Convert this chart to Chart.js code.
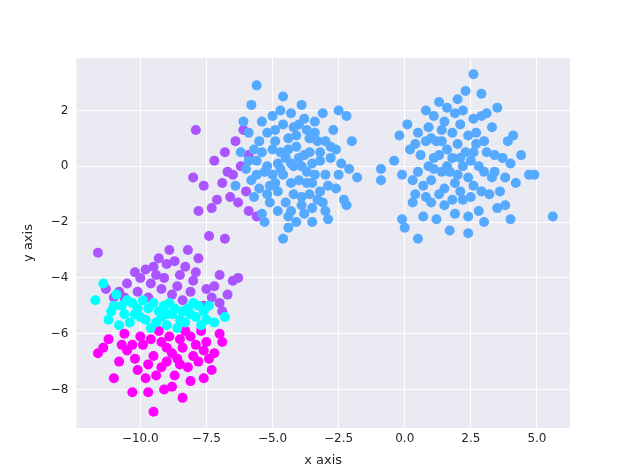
<!DOCTYPE html>
<html>
<head>
<meta charset="utf-8">
<script src="https://cdn.jsdelivr.net/npm/chart.js@4/dist/chart.umd.min.js"></script>
<style>
  html, body { margin: 0; padding: 0; background: #fff; }
  #wrap { width: 631px; height: 476px; }
</style>
</head>
<body>
<div id="wrap"><canvas id="c"></canvas></div>
<script>
//Four blob clusters, in the 'cool' colormap.
const X_TICKS = [-10, -7.5, -5, -2.5, 0, 2.5, 5];
const Y_TICKS = [-8, -6, -4, -2, 0, 2];

const blueA = [[-4.2,0],[-3.8,0.4],[-4.6,-0.3],[-5.0,0.6],[-3.5,-0.6],[-4.4,1.0],[-3.9,-1.1],[-5.3,-0.2],[-3.2,0.2],[-4.8,-0.9],[-4.0,1.5],[-3.0,-0.3],[-5.5,0.9],[-4.5,0.3],[-3.6,1.0],[-4.9,1.3],[-5.8,-0.5],[-3.3,-1.2],[-4.3,-1.6],[-2.8,0.7],[-5.1,-1.3],[-4.7,2.0],[-3.7,-0.2],[-4.1,0.7],[-5.6,0.2],[-2.6,-0.8],[-3.4,1.6],[-4.4,-2.2],[-5.9,1.2],[-6.0,-0.1],[-2.4,0.1],[-3.1,1.9],[-4.6,2.5],[-5.6,2.9],[-5.8,2.2],[-2.2,1.8],[-2.1,-0.1],[-2.3,-1.2],[-3.5,-2.0],[-4.6,-2.6],[-5.4,-1.7],[-6.2,0.5],[-6.4,-0.7],[-3.0,-1.6],[-2.0,0.9],[-3.9,2.2],[-4.2,-1.0],[-5.2,0.0],[-3.6,0.5],[-4.8,0.1],[-4.0,-0.5],[-4.5,-1.3],[-3.3,0.9],[-5.0,1.8],[-3.8,-1.7],[-2.7,1.3],[-6.1,1.6],[-5.7,-1.1],[-2.9,-1.9],[-4.3,1.9],[-1.8,-0.4],[-2.5,2.0],[-5.3,-2.0],[-3.2,-0.9],[-4.9,-0.6],[-3.7,1.3],[-5.4,0.5],[-4.1,-2.0],[-2.2,-1.4],[-4.4,0.6],[-3.9,0.0],[-4.7,-0.1],[-3.4,-0.3],[-5.1,-0.7],[-4.1,1.1],[-3.6,-1.0],
    [-5.5,-0.8],[-5.7,0.6],[-5.2,1.2],[-4.9,0.9],[-4.6,1.5],[-4.2,1.4],[-3.8,1.7],[-3.4,1.2],[-3.0,0.9],[-2.8,0.3],[-2.9,-0.7],[-3.1,-1.3],[-3.5,-1.5],[-3.9,-1.4],[-4.4,-1.8],[-4.8,-1.6],[-5.2,-1.0],[-5.6,-0.3],[-5.9,0.2],[-5.4,1.6],[-4.3,-0.6],[-3.5,0.1],[-3.2,0.5],[-4.0,0.3],[-4.7,0.5],[-5.0,-0.3],[-3.7,-0.6],[-4.3,0.1],[-2.5,-0.3],[-2.6,0.6]];

const blueB = [[1.8,0.3],[1.2,0.9],[2.4,-0.4],[1.5,-0.8],[2.7,0.8],[0.9,0.0],[2.1,1.5],[1.0,-1.3],[3.0,-0.2],[0.5,1.2],[2.9,1.8],[1.6,2.1],[0.3,-0.5],[3.4,0.4],[2.2,-1.2],[1.3,0.4],[2.5,0.2],[0.7,-1.8],[3.6,-0.9],[1.9,-1.7],[0.2,0.6],[3.3,1.4],[2.0,2.4],[1.1,1.8],[-0.1,-0.3],[4.0,0.1],[2.6,3.3],[2.3,2.7],[1.4,-0.2],[0.6,0.4],[3.8,-1.4],[2.8,-1.6],[1.7,-2.3],[2.4,-2.4],[0.5,-2.6],[0.0,-2.2],[-0.1,-1.9],[4.2,-0.6],[4.7,-0.3],[4.9,-0.3],[5.6,-1.8],[4.0,-1.9],[3.5,-1.5],[4.1,1.1],[3.9,0.9],[0.1,1.5],[0.8,2.0],[1.3,2.3],[2.9,2.6],[-0.9,-0.1],[-0.9,-0.5],[-0.4,0.2],[-0.2,1.1],[0.4,-1.0],[2.0,0.8],[2.6,-0.7],[1.6,0.6],[3.1,0.5],[1.0,-0.5],[2.2,0.0],[3.2,-1.0],[1.8,1.2],[1.5,-1.4],[0.8,0.9],[2.7,1.2],[3.5,2.1],[3.0,-2.0],[1.2,-1.9],[0.3,-1.3],[4.4,0.4],[1.9,-0.6],[2.3,0.5],[1.4,1.3],[0.7,-0.7],[2.8,0.0],
    [1.1,0.3],[1.7,-0.2],[2.1,-0.9],[2.5,-1.1],[3.0,0.9],[3.3,-0.4],[2.4,1.1],[1.9,1.9],[1.5,1.6],[0.9,1.4],[0.5,-0.2],[0.8,-1.1],[1.3,-1.0],[1.8,-1.2],[2.9,-0.9],[3.7,0.3],[3.4,-0.2],[2.6,1.7],[2.2,2.0],[1.1,-0.1],[1.6,0.0],[2.1,0.3],[2.6,0.5],[0.4,0.8],[3.1,1.9],[2.0,-0.3],[1.4,0.9],[3.8,-0.4],[2.4,-1.8],[1.0,1.0]];

const purple = [[-9.5,-3.6],[-9.0,-3.5],[-8.5,-3.9],[-10.0,-4.0],[-8.0,-4.1],[-7.5,-4.4],[-10.5,-4.2],[-9.2,-4.4],[-8.8,-4.6],[-10.8,-4.5],[-11.6,-3.1],[-7.8,-3.3],[-7.3,-4.7],[-6.5,-4.1],[-6.7,-4.6],[-7.0,-4.9],[-6.9,-5.2],[-11.0,-4.7],[-8.2,-3.0],[-9.8,-3.7],[-9.3,-3.3],[-8.7,-3.4],[-10.2,-3.8],[-7.6,-5.0],[-8.4,-4.8],[-9.7,-4.7],[-11.3,-4.4],[-6.3,-4.0],[-7.0,-3.9],[-6.8,-2.6],[-7.4,-2.5],[-8.9,-3.0],
    [-9.1,-4.0],[-8.6,-4.3],[-8.1,-4.5],[-9.6,-4.2],[-10.1,-4.5],[-10.6,-4.7],[-7.9,-3.8],[-7.2,-4.3],[-8.3,-3.6],[-9.4,-3.9],
    [-7.9,1.3],[-7.2,0.2],[-6.9,-0.6],[-6.5,-0.3],[-6.2,0.0],[-6.0,-0.9],[-6.8,0.5],[-7.6,-0.7],[-8.0,-0.4],[-7.3,-1.5],[-6.6,-1.1],[-5.9,-1.6],[-6.3,-1.3],[-5.6,-1.8],[-6.1,1.3],[-7.1,-1.2],[-6.4,0.9],[-7.8,-1.6],[-6.7,-0.2],[-5.9,0.4]];

const cyan = [[-11.7,-4.8],[-11.4,-4.2],[-11.0,-5.0],[-10.8,-5.7],[-10.6,-5.3],[-10.3,-4.9],[-10.0,-5.4],[-9.7,-5.1],[-9.4,-5.6],[-9.1,-5.0],[-8.8,-5.3],[-8.5,-5.5],[-8.2,-5.1],[-7.9,-5.4],[-7.6,-5.2],[-7.2,-5.6],[-6.8,-5.4],[-10.9,-4.6],[-10.4,-5.6],[-9.9,-4.8],[-9.6,-5.8],[-9.2,-5.4],[-8.9,-4.9],[-8.6,-5.8],[-8.3,-5.6],[-8.0,-4.9],[-7.7,-5.7],[-7.4,-5.0],[-11.2,-5.5],[-10.1,-5.1],[-9.3,-5.2],[-8.4,-5.2],
    [-10.7,-5.0],[-10.2,-5.3],[-9.8,-5.5],[-9.5,-4.9],[-9.0,-5.7],[-8.7,-5.1],[-8.1,-5.3],[-7.8,-5.0],[-7.5,-5.5],[-10.5,-4.8],[-11.1,-5.2],[-9.0,-5.3]];

const magenta = [[-9.0,-6.5],[-8.5,-6.2],[-9.5,-6.8],[-10.0,-6.1],[-8.0,-6.8],[-7.5,-6.3],[-10.5,-6.6],[-9.2,-7.2],[-8.7,-7.5],[-8.3,-5.9],[-7.8,-7.0],[-9.8,-7.6],[-9.7,-8.1],[-9.5,-8.8],[-10.3,-8.1],[-8.4,-8.3],[-8.8,-7.9],[-11.0,-7.6],[-11.6,-6.7],[-11.2,-6.2],[-10.8,-7.0],[-7.2,-6.7],[-7.0,-6.0],[-6.9,-6.3],[-7.3,-7.3],[-7.6,-7.6],[-8.1,-7.7],[-9.1,-8.0],[-10.1,-7.3],[-10.6,-6.0],[-9.3,-5.9],[-8.6,-6.9],[-8.9,-6.1],[-9.9,-6.4],[-7.9,-6.4],[-8.2,-7.2],[-10.2,-6.9],[-9.4,-7.5],[-7.7,-5.9],[-11.4,-6.5],
    [-9.2,-6.3],[-8.8,-6.7],[-8.4,-6.5],[-9.6,-6.2],[-10.3,-6.4],[-8.1,-6.1],[-7.4,-6.9],[-9.0,-7.0],[-8.5,-7.1],[-9.7,-7.1],[-10.7,-6.4],[-7.6,-6.6]];

const fmt = (v, d) => (v < 0 ? '\u2212' : '') + Math.abs(v).toFixed(d);
const pts = (arr) => arr.map(([x, y]) => ({ x, y }));
const ds = (data, color, order) => ({
    data: pts(data), backgroundColor: color, borderWidth: 0,
    pointRadius: 5, pointHoverRadius: 5, order,
});

new Chart(document.getElementById('c'), {
    type: 'scatter',
    data: {
        datasets: [
            ds(purple,  '#aa55ff', 5),
            ds(magenta, '#ff00ff', 4),
            ds(cyan,    '#00ffff', 3),
            ds(blueA,   '#55aaff', 1),
            ds(blueB,   '#55aaff', 2),
        ],
    },
    plugins: [{
        id: 'bg',
        beforeDraw(chart) {
            const a = chart.chartArea, c = chart.ctx;
            c.save(); c.fillStyle = '#eaeaf2';
            c.fillRect(a.left, a.top, a.right - a.left, a.bottom - a.top);
            c.restore();
        },
    }],
    options: {
        responsive: true, maintainAspectRatio: false, animation: false,
        layout: { padding: { left: 17, right: 61, top: 58, bottom: 4 } },
        plugins: { legend: { display: false }, tooltip: { enabled: false } },
        scales: {
            x: {
                min: -12.42, max: 6.25,
                afterBuildTicks: (s) => { s.ticks = X_TICKS.map((v) => ({ value: v })); },
                ticks: { callback: (v) => fmt(v, 1), color: '#262626', font: { family: 'DejaVu Sans', size: 12 }, padding: 4, maxRotation: 0 },
                grid: { color: '#ffffff', lineWidth: 1, drawTicks: false },
                border: { display: false },
                title: { display: true, text: 'x axis', color: '#262626', font: { family: 'DejaVu Sans', size: 13 }, padding: { top: 2 } },
            },
            y: {
                min: -9.38, max: 3.88,
                afterBuildTicks: (s) => { s.ticks = Y_TICKS.map((v) => ({ value: v })); },
                ticks: { callback: (v) => fmt(v, 0), color: '#262626', font: { family: 'DejaVu Sans', size: 12 }, padding: 8 },
                grid: { color: '#ffffff', lineWidth: 1, drawTicks: false },
                border: { display: false },
                title: { display: true, text: 'y axis', color: '#262626', font: { family: 'DejaVu Sans', size: 13 }, padding: { bottom: 6 } },
            },
        },
    },
});
</script>
</body>
</html>
